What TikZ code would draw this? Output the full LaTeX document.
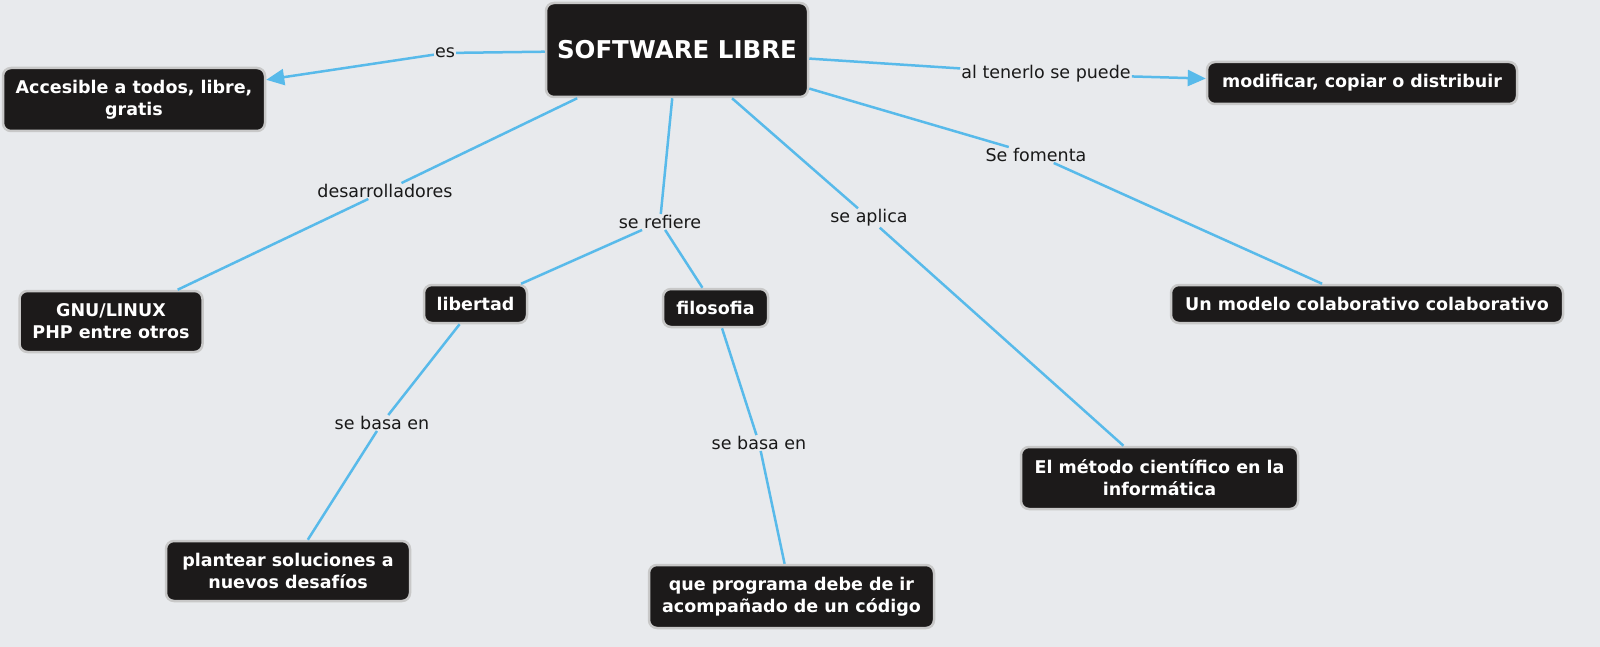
\documentclass[tikz,border=0pt]{standalone}
\usepackage{fontspec}
\setmainfont{DejaVu Sans}
\usetikzlibrary{arrows.meta}
\definecolor{BgClr}{RGB}{232,234,237}
\definecolor{BoxClr}{RGB}{28,26,26}
\definecolor{EdgeClr}{RGB}{200,200,200}
\definecolor{LinkClr}{RGB}{88,186,234}

\begin{document}
\begin{tikzpicture}[x=1pt,y=-1pt,
  concept/.style={draw=EdgeClr,line width=2.5pt,fill=BoxClr,rounded corners=8pt,
    text=white,align=center,inner sep=0pt,
    font=\bfseries\fontsize{17.5}{22}\selectfont},
  phrase/.style={inner sep=1pt,text=black!90,font=\fontsize{17.5}{20}\selectfont},
  link/.style={draw=LinkClr,line width=2.5pt},
  arrowlink/.style={-{Triangle[length=18pt,width=16pt]}}]

\fill[BgClr] (0,0) rectangle (1600,647);
\useasboundingbox (0,0) rectangle (1600,647);

% concepts
\node[concept,minimum width=262pt,minimum height=94pt,
  font=\bfseries\fontsize{24.5}{28}\selectfont] (SL) at (677,50) {SOFTWARE LIBRE};
\node[concept,minimum width=262pt,minimum height=63pt] (AC) at (134,99.5) {Accesible a todos, libre,\\ gratis};
\node[concept,minimum width=310pt,minimum height=42pt] (MO) at (1362,83) {modificar, copiar o distribuir};
\node[concept,minimum width=183pt,minimum height=61pt] (GN) at (111,321.5) {GNU/LINUX\\ PHP entre otros};
\node[concept,minimum width=103pt,minimum height=38pt] (LI) at (475.5,304) {libertad};
\node[concept,minimum width=105pt,minimum height=38pt] (FI) at (715.5,308) {filosofia};
\node[concept,minimum width=392pt,minimum height=38pt] (UN) at (1367,304) {Un modelo colaborativo colaborativo};
\node[concept,minimum width=277pt,minimum height=62pt] (EM) at (1159.5,478) {El método científico en la\\ informática};
\node[concept,minimum width=244pt,minimum height=60pt] (PL) at (288,571) {plantear soluciones a\\ nuevos desafíos};
\node[concept,minimum width=285pt,minimum height=63pt] (QP) at (791.5,596.5) {que programa debe de ir\\ acompañado de un código};

% linking phrases
\node[phrase] (es) at (445,53) {es};
\node[phrase] (al) at (1046,74) {al tenerlo se puede};
\node[phrase] (sf) at (1036,155) {Se fomenta};
\node[phrase] (de) at (385,191) {desarrolladores};
\node[phrase] (sr) at (660,222) {se refiere};
\node[phrase] (sa) at (869,218) {se aplica};
\node[phrase] (sbl) at (382,423) {se basa en};
\node[phrase] (sbf) at (759,443) {se basa en};

% links
\draw[link] (SL) -- (es);
\draw[link,arrowlink] (es) -- (AC);
\draw[link] (SL) -- (al);
\draw[link,arrowlink] (al) -- (MO);
\draw[link] (SL) -- (sf);
\draw[link] (sf) -- (UN);
\draw[link] (SL) -- (de);
\draw[link] (de) -- (GN);
\draw[link] (SL) -- (sr);
\draw[link] (sr) -- (LI);
\draw[link] (sr) -- (FI);
\draw[link] (SL) -- (sa);
\draw[link] (sa) -- (EM);
\draw[link] (LI) -- (sbl);
\draw[link] (sbl) -- (PL);
\draw[link] (FI) -- (sbf);
\draw[link] (sbf) -- (QP);

\end{tikzpicture}
\end{document}
